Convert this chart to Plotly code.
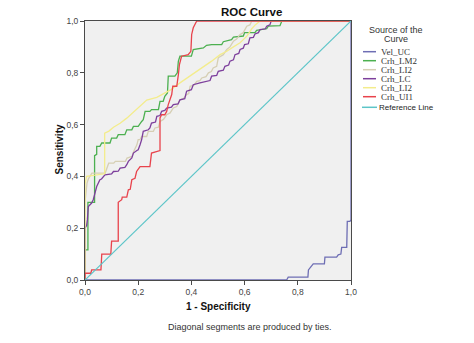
import plotly.graph_objects as go

# ROC coordinates: x = 1 - specificity, y = sensitivity
vel_uc_fpr = [0.0, 0.758, 0.764, 0.838, 0.840, 0.858, 0.900, 0.902, 0.946, 0.952,
              0.962, 0.965, 0.984, 0.986, 0.996, 1.0, 1.0]
vel_uc_tpr = [0.0, 0.0, 0.011, 0.011, 0.039, 0.062, 0.062, 0.088, 0.088, 0.097,
              0.100, 0.126, 0.126, 0.226, 0.226, 0.232, 1.0]

crh_lm2_fpr = [0.0, 0.0, 0.011, 0.011, 0.036, 0.036, 0.044, 0.044, 0.056, 0.063,
               0.094, 0.100, 0.119, 0.125, 0.150, 0.157, 0.176, 0.182, 0.200, 0.207,
               0.213, 0.219, 0.226, 0.244, 0.250, 0.276, 0.282, 0.294, 0.300, 0.310,
               0.313, 0.338, 0.347, 0.351, 0.357, 0.400, 0.407, 0.445, 0.457, 0.476,
               0.514, 0.520, 0.551, 0.558, 0.595, 0.600, 0.639, 0.645, 0.683, 0.689,
               0.733, 0.740, 1.0]
crh_lm2_tpr = [0.0, 0.116, 0.116, 0.300, 0.300, 0.480, 0.485, 0.516, 0.516, 0.529,
               0.529, 0.548, 0.548, 0.561, 0.561, 0.580, 0.580, 0.593, 0.593, 0.606,
               0.612, 0.619, 0.651, 0.651, 0.658, 0.658, 0.690, 0.690, 0.709, 0.722,
               0.787, 0.787, 0.800, 0.845, 0.864, 0.864, 0.890, 0.896, 0.906, 0.909,
               0.909, 0.920, 0.928, 0.938, 0.942, 0.955, 0.955, 0.964, 0.970, 0.980,
               0.982, 1.0, 1.0]

crh_li2_a_fpr = [0.0, 0.0, 0.0075, 0.0125, 0.026, 0.076, 0.089, 0.108, 0.114, 0.152,
                 0.158, 0.177, 0.183, 0.195, 0.200, 0.207, 0.213, 0.232, 0.238, 0.257,
                 0.263, 0.276, 0.282, 0.295, 0.307, 0.320, 0.332, 0.345, 0.357, 0.370,
                 0.382, 0.390, 0.395, 0.410, 0.420, 0.432, 0.439, 0.455, 0.464, 0.475,
                 0.482, 0.495, 0.501, 0.520, 0.533, 0.545, 0.558, 0.570, 0.583, 0.595,
                 0.608, 0.620, 0.627, 1.0]
crh_li2_a_tpr = [0.0, 0.300, 0.374, 0.390, 0.413, 0.413, 0.451, 0.451, 0.458, 0.458,
                 0.471, 0.477, 0.496, 0.522, 0.542, 0.542, 0.554, 0.554, 0.574, 0.574,
                 0.587, 0.590, 0.612, 0.620, 0.638, 0.645, 0.664, 0.670, 0.696, 0.700,
                 0.716, 0.720, 0.748, 0.752, 0.767, 0.770, 0.780, 0.785, 0.800, 0.805,
                 0.819, 0.825, 0.858, 0.870, 0.890, 0.900, 0.922, 0.930, 0.948, 0.955,
                 0.980, 0.985, 1.0, 1.0]

crh_lc_fpr = [0.0, 0.0, 0.006, 0.009, 0.0125, 0.025, 0.031, 0.038, 0.044, 0.056,
              0.062, 0.075, 0.100, 0.107, 0.125, 0.132, 0.150, 0.157, 0.163, 0.176,
              0.182, 0.195, 0.200, 0.207, 0.213, 0.219, 0.238, 0.244, 0.250, 0.265,
              0.270, 0.282, 0.288, 0.300, 0.307, 0.325, 0.332, 0.350, 0.357, 0.375,
              0.382, 0.400, 0.407, 0.432, 0.450, 0.457, 0.470, 0.476, 0.495, 0.501,
              0.520, 0.526, 0.540, 0.545, 0.558, 0.564, 0.578, 0.583, 0.595, 0.600,
              0.614, 0.620, 0.633, 0.639, 0.652, 0.658, 0.678, 0.683, 0.695, 0.700,
              1.0]
crh_lc_tpr = [0.0, 0.200, 0.210, 0.232, 0.284, 0.297, 0.310, 0.335, 0.361, 0.387,
              0.390, 0.406, 0.410, 0.419, 0.420, 0.432, 0.435, 0.445, 0.458, 0.471,
              0.490, 0.500, 0.503, 0.522, 0.542, 0.574, 0.580, 0.587, 0.606, 0.610,
              0.632, 0.635, 0.651, 0.655, 0.664, 0.667, 0.677, 0.680, 0.696, 0.700,
              0.729, 0.735, 0.754, 0.761, 0.765, 0.767, 0.770, 0.787, 0.790, 0.806,
              0.810, 0.825, 0.830, 0.845, 0.850, 0.870, 0.875, 0.890, 0.895, 0.909,
              0.912, 0.935, 0.937, 0.950, 0.955, 0.967, 0.970, 0.980, 0.985, 1.0,
              1.0]

crh_li2_b_fpr = [0.0, 0.0, 0.006, 0.074, 0.074, 0.090, 0.107, 0.132, 0.157, 0.182,
                 0.200, 0.219, 0.232, 0.270, 0.282, 0.294, 0.320, 0.357, 0.395, 0.432,
                 0.476, 0.508, 0.533, 0.558, 0.583, 0.595, 0.608, 0.627, 0.640, 0.658,
                 1.0]
crh_li2_b_tpr = [0.0, 0.370, 0.400, 0.410, 0.567, 0.575, 0.590, 0.605, 0.625, 0.648,
                 0.665, 0.680, 0.695, 0.705, 0.712, 0.720, 0.733, 0.761, 0.787, 0.812,
                 0.845, 0.870, 0.883, 0.900, 0.916, 0.928, 0.941, 0.970, 0.985, 1.0,
                 1.0]

crh_ui1_fpr = [0.0, 0.0, 0.022, 0.025, 0.060, 0.063, 0.097, 0.100, 0.125, 0.125,
               0.138, 0.140, 0.157, 0.163, 0.170, 0.176, 0.188, 0.194, 0.207, 0.244,
               0.250, 0.276, 0.282, 0.282, 0.288, 0.300, 0.307, 0.313, 0.320, 0.326,
               0.330, 0.345, 0.351, 0.355, 0.363, 0.388, 0.398, 0.401, 0.407, 0.420,
               1.0]
crh_ui1_tpr = [0.0, 0.026, 0.026, 0.039, 0.039, 0.100, 0.100, 0.150, 0.150, 0.300,
               0.310, 0.320, 0.320, 0.348, 0.350, 0.387, 0.393, 0.419, 0.438, 0.438,
               0.490, 0.500, 0.500, 0.626, 0.638, 0.638, 0.651, 0.677, 0.703, 0.716,
               0.748, 0.748, 0.793, 0.832, 0.864, 0.870, 0.883, 0.948, 0.974, 1.0,
               1.0]

reference_x = [0.0, 1.0]
reference_y = [0.0, 1.0]

series_names = ["Vel_UC", "Crh_LM2", "Crh_LI2", "Crh_LC", "Crh_LI2", "Crh_UI1"]
series_x = [vel_uc_fpr, crh_lm2_fpr, crh_li2_a_fpr, crh_lc_fpr, crh_li2_b_fpr, crh_ui1_fpr]
series_y = [vel_uc_tpr, crh_lm2_tpr, crh_li2_a_tpr, crh_lc_tpr, crh_li2_b_tpr, crh_ui1_tpr]
series_colors = ["#6e6eb4", "#4cb050", "#d6cfb4", "#7d3f9c", "#f3ec8c", "#e8434c"]
reference_name = "Reference Line"
reference_color = "#5cc5c8"

tick_vals = [0.0, 0.2, 0.4, 0.6, 0.8, 1.0]
tick_text = ["0,0", "0,2", "0,4", "0,6", "0,8", "1,0"]

# page geometry (pixels)
W, H = 474, 343
ML, MR, MT, MB = 85, 123, 21, 63
PW, PH = W - ML - MR, H - MT - MB

SANS = "Arial, Liberation Sans, sans-serif"
SERIF = "Times New Roman, Liberation Serif, serif"


def px_x(px):
    return (px - ML) / PW


def px_y(py):
    return (H - MB - py) / PH


fig = go.Figure()
for name, xs, ys, col in zip(series_names, series_x, series_y, series_colors):
    fig.add_trace(go.Scatter(x=xs, y=ys, mode="lines", name=name,
                             line=dict(color=col, width=1.3), showlegend=False))
fig.add_trace(go.Scatter(x=reference_x, y=reference_y, mode="lines", name=reference_name,
                         line=dict(color=reference_color, width=1.2), showlegend=False))

axis_style = dict(range=[0, 1], showgrid=False, zeroline=False, showline=True, mirror=True,
                  linecolor="#4a4a4a", linewidth=1, ticks="outside", ticklen=4,
                  tickcolor="#4a4a4a", tickvals=tick_vals, ticktext=tick_text,
                  tickfont=dict(family=SANS, size=8.5, color="#444444"), fixedrange=True)

annotations = [
    dict(text="<b>ROC Curve</b>", x=px_x(251), y=px_y(12), font=dict(family=SANS, size=11.5, color="#111111")),
    dict(text="<b>Sensitivity</b>", x=px_x(58.5), y=px_y(150), textangle=-90,
         font=dict(family=SANS, size=10, color="#111111")),
    dict(text="<b>1 - Specificity</b>", x=px_x(218), y=px_y(306), font=dict(family=SANS, size=10, color="#111111")),
    dict(text="Diagonal segments are produced by ties.", x=px_x(250), y=px_y(326.5),
         font=dict(family=SANS, size=9, color="#333333")),
    dict(text="Source of the", x=px_x(396), y=px_y(29.5), font=dict(family=SANS, size=9, color="#333333")),
    dict(text="Curve", x=px_x(396), y=px_y(38.8), font=dict(family=SANS, size=9, color="#333333")),
]

shapes = []
legend_rows = [51.7, 60.7, 69.7, 78.7, 87.7, 96.7]
for name, col, row in zip(series_names, series_colors, legend_rows):
    shapes.append(dict(type="line", xref="paper", yref="paper", x0=px_x(363), x1=px_x(376),
                       y0=px_y(row), y1=px_y(row), line=dict(color=col, width=1.5)))
    annotations.append(dict(text=name, x=px_x(379), y=px_y(row), xanchor="left",
                            font=dict(family=SERIF, size=9, color="#333333")))
shapes.append(dict(type="line", xref="paper", yref="paper", x0=px_x(362), x1=px_x(377),
                   y0=px_y(107.3), y1=px_y(107.3), line=dict(color=reference_color, width=1.5)))
annotations.append(dict(text=reference_name, x=px_x(377), y=px_y(107.3), xanchor="left",
                        font=dict(family=SANS, size=8, color="#222222")))

for a in annotations:
    a.update(xref="paper", yref="paper", showarrow=False)
    a.setdefault("xanchor", "center")
    a.setdefault("yanchor", "middle")

fig.update_layout(
    width=W, height=H,
    margin=dict(l=ML, r=MR, t=MT, b=MB, pad=0),
    paper_bgcolor="white", plot_bgcolor="#f0f0f0",
    xaxis=axis_style, yaxis=axis_style,
    annotations=annotations, shapes=shapes,
    showlegend=False,
)

fig.write_html("out.html", config={"displayModeBar": False})
